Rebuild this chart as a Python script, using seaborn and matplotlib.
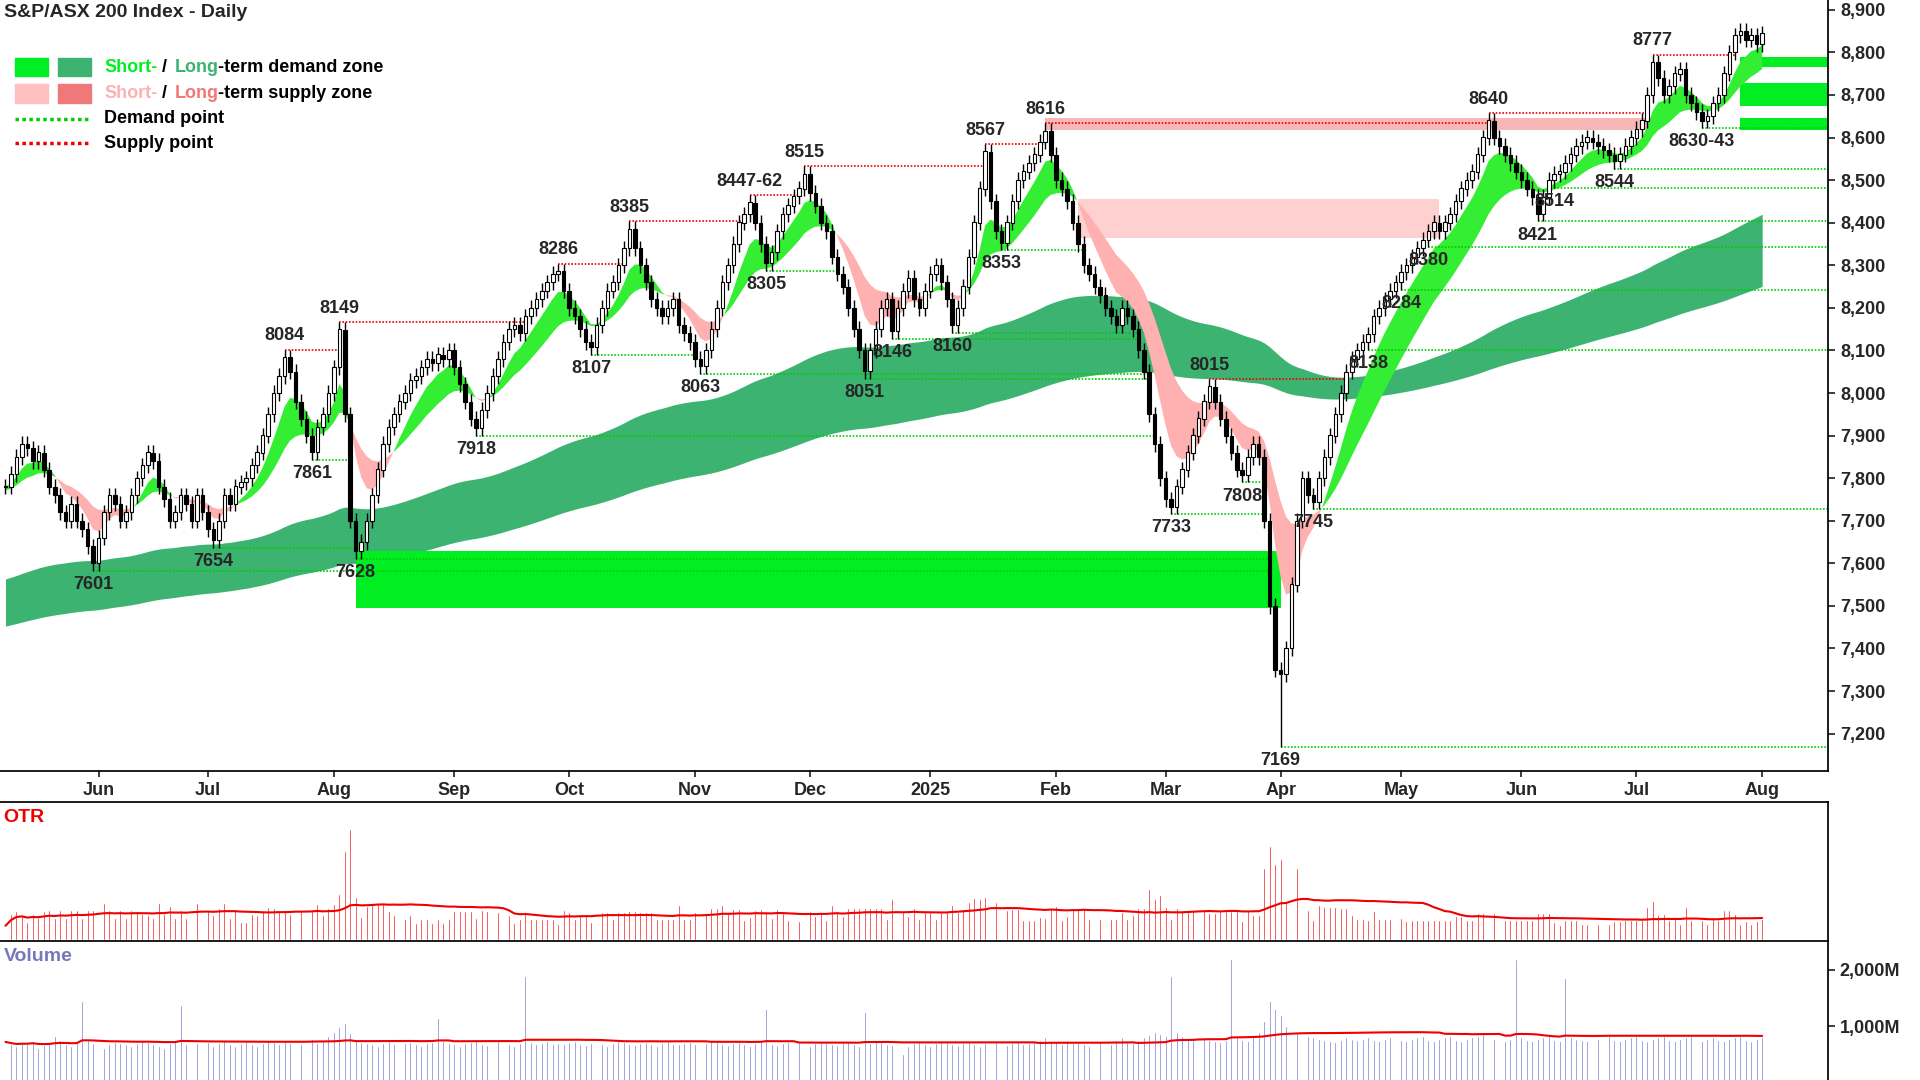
import numpy as np
import pandas as pd
import matplotlib
matplotlib.use("Agg")
import matplotlib.pyplot as plt
from matplotlib.patches import Rectangle
import seaborn as sns

sns.set_theme(style="white")
plt.rcParams['font.family'] = ['Liberation Sans', 'DejaVu Sans']

# ---------------- data ----------------
closes_by_month = [
 [7780,7810,7850,7880,7870,7840,7860,7820,7780,7760,7720,7700,7740,7700,7680],
 [7640,7601,7660,7720,7760,7740,7700,7720,7760,7800,7830,7860,7840,7780,7750,7700,7720,7760,7740,7700,7760],
 [7720,7680,7654,7700,7760,7740,7780,7790,7800,7830,7860,7900,7950,8000,8040,8084,8050,7980,7940,7900,7861,7920],
 [7950,8000,8060,8149,7950,7700,7628,7650,7700,7760,7820,7880,7920,7950,7980,8000,8030,8040,8060,8080,8070,8090],
 [8080,8100,8060,8020,7980,7940,7918,7960,8000,8040,8080,8120,8150,8160,8140,8180,8200,8220,8240,8260,8280],
 [8286,8240,8200,8180,8150,8120,8107,8160,8200,8240,8260,8300,8340,8385,8340,8300,8260,8220,8200,8180,8200,8220,8160],
 [8140,8120,8080,8063,8100,8150,8200,8260,8300,8350,8400,8420,8447,8400,8350,8305,8330,8380,8420,8440,8462],
 [8480,8515,8470,8440,8400,8380,8320,8280,8250,8200,8150,8100,8051,8100,8150,8200,8220,8146,8200,8240],
 [8270,8220,8200,8240,8280,8300,8260,8220,8160,8200,8250,8320,8400,8480,8567,8450,8380,8353,8400,8450,8500,8520],
 [8540,8560,8590,8616,8560,8500,8480,8450,8400,8350,8300,8280,8250,8230,8200,8180,8160,8200,8180,8150],
 [8100,8050,7950,7880,7800,7750,7733,7780,7820,7860,7900,7940,7980,8015,7980,7940,7900,7860,7820,7808,7850],
 [7880,7850,7700,7500,7350,7340,7400,7550,7700,7800,7760,7745,7800,7850,7900,7950,8000,8050,8080,8100],
 [8120,8138,8180,8200,8220,8240,8260,8284,8300,8320,8340,8360,8380,8400,8380,8400,8420,8450,8480,8500,8520],
 [8560,8600,8640,8600,8580,8560,8540,8520,8500,8480,8460,8421,8460,8500,8514,8520,8540,8560,8580,8590,8600],
 [8590,8580,8570,8560,8544,8560,8580,8600,8620,8640,8700,8777,8740,8700,8720,8750,8760,8700,8680,8660,8640,8650,8680],
 [8700,8750,8800,8840,8850,8830,8840,8820,8845],
]
volume_by_month = [
 [720,680,650,700,690,740,610,660,700,820,760,690,640,710,1450],
 [760,700,650,620,680,720,700,690,650,700,760,720,680,640,620,700,740,1380,680,650,700],
 [690,720,650,700,760,680,640,700,730,690,650,700,760,720,680,740,700,650,690,720,780,700],
 [760,820,900,980,1050,880,760,720,700,680,650,700,740,690,660,700,720,680,650,700,720,1150],
 [740,700,680,650,700,720,760,690,660,700,740,720,680,650,700,1900,720,680,700,740,690],
 [700,680,720,740,690,660,700,720,680,650,700,740,720,690,660,700,720,680,650,700,740,690,680],
 [700,720,680,650,700,740,720,690,660,700,720,680,650,700,740,1300,690,660,700,720,680],
 [720,680,650,700,740,720,690,660,700,720,680,650,1250,700,740,720,690,660,600,500],
 [640,700,720,680,650,700,740,720,690,660,700,720,680,650,700,740,720,690,660,700,720,680],
 [700,720,760,800,740,720,690,760,700,720,680,650,700,740,720,690,760,800,720,700],
 [760,800,840,900,860,820,1900,900,820,780,760,1050,800,760,740,720,760,2200,800,760,740],
 [820,900,1100,1450,1300,1200,1000,950,900,860,820,800,780,760,740,720,760,800,780,760],
 [780,800,760,740,780,800,820,760,740,780,800,820,760,740,780,800,820,760,740,780,800],
 [820,860,800,780,760,740,780,2200,800,760,740,780,800,820,760,740,1850,800,780,760,740],
 [760,780,800,820,760,740,780,800,820,760,740,780,800,820,760,740,780,800,820,760,740,780,800],
 [760,740,780,800,820,760,740,780,800],
]
closes = [c for m in closes_by_month for c in m]
volume = [v for m in volume_by_month for v in m]
n = len(closes)
volume = (volume + [volume[-1]] * n)[:n]
dates = pd.bdate_range("2024-05-13", periods=n)
low_overrides = {233: 7169}

# (label, bar index, level, above/below)
pivots = [("7601",16,7601,"b"),("7654",38,7654,"b"),("8084",51,8084,"a"),("7861",56,7861,"b"),
 ("8149",61,8149,"a"),("7628",64,7628,"b"),("7918",86,7918,"b"),("8286",101,8286,"a"),
 ("8107",107,8107,"b"),("8385",114,8385,"a"),("8063",127,8063,"b"),("8447-62",136,8447,"a"),
 ("8305",139,8305,"b"),("8515",146,8515,"a"),("8051",157,8051,"b"),("8146",162,8146,"b"),
 ("8160",173,8160,"b"),("8567",179,8567,"a"),("8353",182,8353,"b"),("8616",190,8616,"a"),
 ("7733",213,7733,"b"),("8015",220,8015,"a"),("7808",226,7808,"b"),("7169",233,7169,"b"),
 ("7745",239,7745,"b"),("8138",249,8138,"b"),("8284",255,8284,"b"),("8380",260,8380,"b"),
 ("8640",271,8640,"a"),("8421",280,8421,"b"),("8514",283,8514,"b"),("8544",294,8544,"b"),
 ("8777",301,8777,"a"),("8630-43",310,8630,"b")]

demand_zone_big = (64, 233, 7495, 7630)
supply_zone_dark = (190, 301, 8618, 8647)
supply_zone_light = (196, 262, 8363, 8455)
demand_zones_right = [(8765, 8788), (8673, 8728), (8618, 8647)]

# ---------------- derived ----------------
c = np.array(closes, float)
o = np.r_[c[0], c[:-1]]
h = np.maximum(o, c) + 18
l = np.minimum(o, c) - 18
for i, v in low_overrides.items():
    l[i] = v
x = np.arange(n)

def ema(arr, span, seed):
    a = 2 / (span + 1); out = np.empty(len(arr)); prev = seed
    for i, v in enumerate(arr):
        prev = prev + a * (v - prev); out[i] = prev
    return out

s1, s2 = ema(c, 7, 7780), ema(c, 18, 7770)
l1, l2 = ema(c, 130, 7560), ema(c, 250, 7450)
XMAX = n + 11

fig = plt.figure(figsize=(19.2, 10.8), dpi=100)
axW = 0.952
ax = fig.add_axes([0, 0.286, axW, 0.714])
ax2 = fig.add_axes([0, 0.130, axW, 0.127], sharex=ax)
ax3 = fig.add_axes([0, 0.0, axW, 0.129], sharex=ax)

ax.fill_between(x, l1, l2, where=l1 >= l2, color="#3cb371", interpolate=True, lw=0, zorder=1)
ax.fill_between(x, l1, l2, where=l1 < l2, color="#ff7733", interpolate=True, lw=0, zorder=1)
ax.fill_between(x, s1, s2, where=s1 >= s2, color="#33ee33", interpolate=True, lw=0, zorder=2)
ax.fill_between(x, s1, s2, where=s1 < s2, color="#ffb0b0", interpolate=True, lw=0, zorder=2)

def rect(x0, x1, y0, y1, col):
    ax.add_patch(Rectangle((x0, y0), x1 - x0, y1 - y0, color=col, lw=0, zorder=1.5))
rect(*demand_zone_big, "#00ee22")
rect(*supply_zone_dark, "#f7b7b7")
rect(*supply_zone_light, "#ffd0d0")
for y0, y1 in demand_zones_right:
    rect(n - 5, XMAX, y0, y1, "#00ee22")

for lab, i, val, side in pivots:
    if side == "a":
        lvl = max(h[i], val)
        brk = [j for j in range(i + 1, n) if c[j] > lvl + 5]
        col = "#ee0000"
    else:
        lvl = min(l[i], val)
        brk = [j for j in range(i + 1, n) if c[j] < lvl - 5]
        col = "#00cc00"
    end = brk[0] if brk else XMAX
    ax.plot([i, end], [lvl, lvl], ls=(0, (1, 1)), color=col, lw=1.2, zorder=2.5)
    if side == "a":
        ax.text(i, lvl + 12, lab, ha="center", va="bottom", fontsize=13, fontweight="bold", zorder=6)
    else:
        ax.text(i, lvl - 12, lab, ha="center", va="top", fontsize=13, fontweight="bold", zorder=6)

up = c >= o
ax.vlines(x, l, h, color="black", lw=1, zorder=3)
ax.bar(x[up], (c - o)[up] + 0.5, bottom=o[up], width=0.65, color="white", edgecolor="black", lw=0.8, zorder=4)
ax.bar(x[~up], (o - c)[~up], bottom=c[~up], width=0.65, color="black", edgecolor="black", lw=0.8, zorder=4)

ax.set_xlim(-1, XMAX)
ax.set_ylim(7112, 8923)
ax.yaxis.tick_right()
ax.set_yticks(range(7200, 8901, 100))
ax.set_yticklabels([f"{v:,}" for v in range(7200, 8901, 100)], fontsize=13, fontweight="bold")
ax.tick_params(axis="y", length=5, direction="out", right=True, pad=4)
for sp in ["top", "left"]:
    ax.spines[sp].set_visible(False)
for sp in ["right", "bottom"]:
    ax.spines[sp].set_color("black")

mt, ml = [], []
for i in range(1, n):
    if dates[i].month != dates[i - 1].month:
        mt.append(i + 2); ml.append("2025" if dates[i].month == 1 else dates[i].strftime("%b"))
ax.set_xticks(mt)
ax.set_xticklabels(ml, fontsize=13, fontweight="bold")
ax.tick_params(axis="x", length=4, bottom=True, pad=4)

ax.text(0.002, 0.995, "S&P/ASX 200 Index - Daily", transform=ax.transAxes, fontsize=14,
        fontweight="bold", va="top", ha="left")
leg_rows = [0.913, 0.879, 0.846, 0.814]
for yy, c1, c2 in [(leg_rows[0], "#00ee22", "#3cb371"), (leg_rows[1], "#ffc0c0", "#f07878")]:
    ax.add_patch(Rectangle((0.008, yy - 0.012), 0.018, 0.024, color=c1, transform=ax.transAxes, zorder=7))
    ax.add_patch(Rectangle((0.032, yy - 0.012), 0.018, 0.024, color=c2, transform=ax.transAxes, zorder=7))
for yy, col in [(leg_rows[2], "#00cc00"), (leg_rows[3], "#ee0000")]:
    ax.plot([0.008, 0.050], [yy, yy], transform=ax.transAxes, ls=(0, (1, 1)), color=col, lw=2.5, zorder=7)
fs = 13
def lt(xf, yy, s, col):
    ax.text(xf, yy, s, transform=ax.transAxes, fontsize=fs, fontweight="bold", color=col, va="center", zorder=7)
lt(0.057, leg_rows[0], "Short-", "#00ee22"); lt(0.0885, leg_rows[0], "/", "black")
lt(0.0955, leg_rows[0], "Long", "#3cb371"); lt(0.1195, leg_rows[0], "-term demand zone", "black")
lt(0.057, leg_rows[1], "Short-", "#ffb0b0"); lt(0.0885, leg_rows[1], "/", "black")
lt(0.0955, leg_rows[1], "Long", "#f07878"); lt(0.1195, leg_rows[1], "-term supply zone", "black")
lt(0.057, leg_rows[2], "Demand point", "black"); lt(0.057, leg_rows[3], "Supply point", "black")

tr = np.maximum(h, np.r_[c[0], c[:-1]]) - np.minimum(l, np.r_[c[0], c[:-1]])
otr = tr / c * 100
ax2.bar(x, otr, width=0.35, color="#ee0000")
sns.lineplot(x=x, y=pd.Series(otr).rolling(30, min_periods=1).mean().values, ax=ax2, color="#ee0000", lw=1.5)
ax2.set_ylim(0, 4.6)
ax2.set_yticks([])
ax2.text(0.002, 0.95, "OTR", transform=ax2.transAxes, color="#ee0000", fontsize=14, fontweight="bold", va="top")

vol = np.array(volume, float)
ax3.bar(x, vol, width=0.35, color="#6a6acc")
sns.lineplot(x=x, y=pd.Series(vol).rolling(50, min_periods=1).mean().values, ax=ax3, color="#ee0000", lw=1.5)
ax3.set_ylim(43, 2520)
ax3.yaxis.tick_right()
ax3.set_yticks([1000, 2000])
ax3.set_yticklabels(["1,000M", "2,000M"], fontsize=13, fontweight="bold")
ax3.tick_params(axis="y", length=5, right=True)
ax3.text(0.002, 0.95, "Volume", transform=ax3.transAxes, color="#7777bb", fontsize=14, fontweight="bold", va="top")

for a in (ax2, ax3):
    for sp in ["left", "bottom"]:
        a.spines[sp].set_visible(False)
    a.spines["top"].set_color("black"); a.spines["right"].set_color("black")
    a.tick_params(axis="x", bottom=False, labelbottom=False)
    a.set_xlabel(""); a.set_ylabel("")

fig.savefig("out.png", dpi=100)
